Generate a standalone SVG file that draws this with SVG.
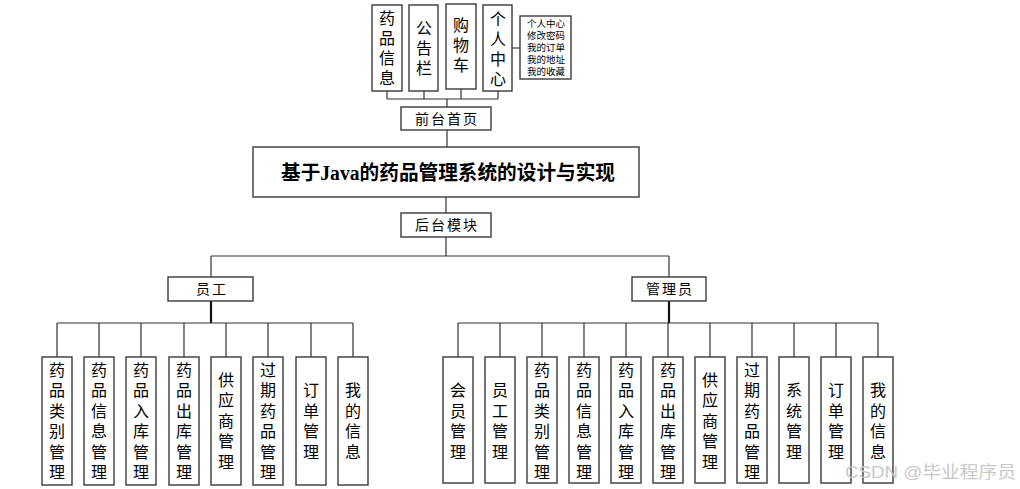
<svg xmlns="http://www.w3.org/2000/svg" width="1020" height="489" viewBox="0 0 1020 489">
<style>
.box{fill:#fff;stroke:#3a3a3a;stroke-width:1.4}
.ln{fill:none;stroke:#333;stroke-width:1.2}
.thk{fill:none;stroke:#111;stroke-width:2.2}
.t{font-family:"Noto Sans CJK SC","Liberation Sans",sans-serif;fill:#000;text-anchor:middle}
.v{font-size:16px;writing-mode:vertical-rl;letter-spacing:4.5px}
.top{font-size:16px;writing-mode:vertical-rl;letter-spacing:4px}
.h{font-size:14px;letter-spacing:2px}
.s{font-size:9.5px}
.title{font-family:"Liberation Serif","Noto Sans CJK SC",serif;font-weight:bold;font-size:20px;text-anchor:middle}
.wm{font-family:"Liberation Sans","Noto Sans CJK SC",sans-serif;font-size:17px;fill:#c8c8c8}
</style>
<rect width="1020" height="489" fill="#fff"/>
<g id="connectors">
<path class="ln" d="M387 91V99M424 91V99M461 89V99M498 91V99M387 99H498M447 99V107"/>
<path class="ln" d="M512 48H520"/>
<path class="ln" d="M447 130V147M446 197V213M446 237V256M211 256H669M211 256V277M669 256V277"/>
<path class="thk" d="M211 301V323M669 301V323"/>
<path class="ln" d="M57 323H353M57 323V357M99 323V357M141 323V357M184 323V357M226 323V357M268 323V357M311 323V357M353 323V357"/>
<path class="ln" d="M458 323H878M458 323V357M500 323V357M542 323V357M584 323V357M626 323V357M668 323V357M710 323V357M752 323V357M794 323V357M836 323V357M878 323V357"/>
</g>
<g id="n-yaopinxinxi"><rect class="box" x="372" y="5" width="30" height="86"/><text class="t top" x="387" y="50">药品信息</text></g>
<g id="n-gonggaolan"><rect class="box" x="409" y="5" width="29" height="86"/><text class="t top" x="424" y="50">公告栏</text></g>
<g id="n-gouwuche"><rect class="box" x="446" y="4" width="30" height="85"/><text class="t top" x="461" y="47">购物车</text></g>
<g id="n-gerenzhongxin"><rect class="box" x="483" y="5" width="29" height="86"/><text class="t top" x="498" y="51">个人中心</text></g>
<g id="n-side"><rect class="box" x="520" y="16" width="51" height="63"/><text class="t s"><tspan x="546" y="27">个人中心</tspan><tspan x="546" y="39">修改密码</tspan><tspan x="546" y="51">我的订单</tspan><tspan x="546" y="63">我的地址</tspan><tspan x="546" y="75">我的收藏</tspan></text></g>
<g id="n-qiantai"><rect class="box" x="401" y="107" width="90" height="23"/><text class="t h" x="447" y="124">前台首页</text></g>
<g id="n-title"><rect class="box" x="253" y="147" width="386" height="50"/><text class="title" x="448" y="180" textLength="334" lengthAdjust="spacingAndGlyphs">基于Java的药品管理系统的设计与实现</text></g>
<g id="n-houtai"><rect class="box" x="401" y="213" width="90" height="24"/><text class="t h" x="447" y="230">后台模块</text></g>
<g id="n-yuangong"><rect class="box" x="168" y="277" width="85" height="24"/><text class="t h" x="212" y="294">员工</text></g>
<g id="n-guanliyuan"><rect class="box" x="632" y="277" width="74" height="24"/><text class="t h" x="670" y="294">管理员</text></g>

<g id="e1"><rect class="box" x="42" y="357" width="30" height="128"/><text class="t v" x="57" y="423">药品类别管理</text></g>
<g id="e2"><rect class="box" x="84" y="357" width="30" height="128"/><text class="t v" x="99" y="423">药品信息管理</text></g>
<g id="e3"><rect class="box" x="126" y="357" width="30" height="128"/><text class="t v" x="141" y="423">药品入库管理</text></g>
<g id="e4"><rect class="box" x="169" y="357" width="30" height="128"/><text class="t v" x="184" y="423">药品出库管理</text></g>
<g id="e5"><rect class="box" x="211" y="357" width="30" height="128"/><text class="t v" x="226" y="423">供应商管理</text></g>
<g id="e6"><rect class="box" x="253" y="357" width="30" height="128"/><text class="t v" x="268" y="423">过期药品管理</text></g>
<g id="e7"><rect class="box" x="296" y="357" width="30" height="128"/><text class="t v" x="311" y="423">订单管理</text></g>
<g id="e8"><rect class="box" x="338" y="357" width="30" height="128"/><text class="t v" x="353" y="423">我的信息</text></g>

<g id="a1"><rect class="box" x="443" y="357" width="30" height="126"/><text class="t v" x="458" y="423">会员管理</text></g>
<g id="a2"><rect class="box" x="485" y="357" width="30" height="126"/><text class="t v" x="500" y="423">员工管理</text></g>
<g id="a3"><rect class="box" x="527" y="357" width="30" height="126"/><text class="t v" x="542" y="423">药品类别管理</text></g>
<g id="a4"><rect class="box" x="569" y="357" width="30" height="126"/><text class="t v" x="584" y="423">药品信息管理</text></g>
<g id="a5"><rect class="box" x="611" y="357" width="30" height="126"/><text class="t v" x="626" y="423">药品入库管理</text></g>
<g id="a6"><rect class="box" x="653" y="357" width="30" height="126"/><text class="t v" x="668" y="423">药品出库管理</text></g>
<g id="a7"><rect class="box" x="695" y="357" width="30" height="126"/><text class="t v" x="710" y="423">供应商管理</text></g>
<g id="a8"><rect class="box" x="737" y="357" width="30" height="126"/><text class="t v" x="752" y="423">过期药品管理</text></g>
<g id="a9"><rect class="box" x="779" y="357" width="30" height="126"/><text class="t v" x="794" y="423">系统管理</text></g>
<g id="a10"><rect class="box" x="821" y="357" width="30" height="126"/><text class="t v" x="836" y="423">订单管理</text></g>
<g id="a11"><rect class="box" x="863" y="357" width="30" height="126"/><text class="t v" x="878" y="423">我的信息</text></g>

<text class="wm" x="845" y="478" textLength="171" lengthAdjust="spacingAndGlyphs">CSDN @毕业程序员</text>
</svg>
